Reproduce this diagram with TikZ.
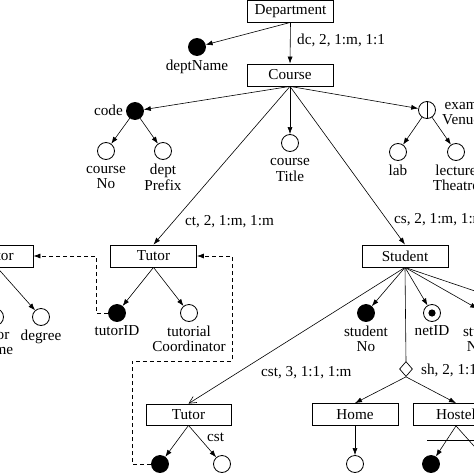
\documentclass[tikz,border=0pt]{standalone}
\usepackage{fontspec}
\setmainfont{Liberation Serif}
\usetikzlibrary{shapes.geometric,arrows.meta,positioning}
\newcommand{\myfs}{\fontsize{15.2}{14}\selectfont}
\begin{document}
\begin{tikzpicture}[x=1pt,y=-1pt,
  ent/.style={draw, line width=0.8pt, rectangle, minimum width=86pt, minimum height=22pt, inner sep=0pt, font=\myfs},
  att/.style={draw, circle, line width=0.8pt, minimum size=17pt, inner sep=0pt},
  key/.style={att, fill=black},
  conn/.style={line width=0.6pt, -{Latex[length=7pt,width=5pt]}},
  openarrow/.style={line width=0.6pt, -{Straight Barb[length=7pt,width=7pt]}},
  plain/.style={line width=0.6pt},
  refl/.style={line width=0.7pt, dash pattern=on 4pt off 3pt, -{Latex[length=7pt,width=5pt]}},
  lbl/.style={align=center, inner sep=0pt, font=\myfs},
  elbl/.style={inner sep=0pt, font=\myfs, anchor=base west}]
\useasboundingbox (0,0) rectangle (474,474);
\clip (0,0) rectangle (474,474);

% entity boxes
\node[ent] (dept) at (290.5,11) {Department};
\node[ent] (course) at (290,75) {Course};
\node[ent, minimum width=72pt] (tutorA) at (-3,256) {Tutor};
\node[ent] (tutorB) at (153.5,256) {Tutor};
\node[ent] (student) at (405,256) {Student};
\node[ent, minimum width=85pt, minimum height=21pt] (tutorC) at (188.5,414.5) {Tutor};
\node[ent] (home) at (355,414.5) {Home};
\node[ent] (hostel) at (456,414.5) {Hostel};

% attributes
\node[key] (deptName) at (197,47) {};
\node[lbl, below=3.5pt of deptName] (ldeptName) {\strut deptName};
\node[key] (code) at (135,111) {};
\node[lbl, anchor=base east] (lcode) at (123,115) {code};
\node[att] (courseNo) at (106,151) {};
\node[lbl, below=3.5pt of courseNo] (lcourseNo) {\strut course\\No};
\node[att] (deptPrefix) at (163,151) {};
\node[lbl, below=3.5pt of deptPrefix] (ldeptPrefix) {\strut dept\\Prefix};
\node[att] (courseTitle) at (290,143) {};
\node[lbl, below=3.5pt of courseTitle] (lcourseTitle) {\strut course\\Title};
\node[att] (examVenue) at (427,110) {};
\draw[line width=0.8pt] (examVenue.north) -- (examVenue.south);
\node[lbl, anchor=north west] (lexamVenue) at (442,99) {\strut exam\\Venue};
\node[att] (lab) at (398,152) {};
\node[lbl, below=3.5pt of lab] (llab) {\strut lab};
\node[att] (lecture) at (456,152) {};
\node[lbl, below=3.5pt of lecture] (llecture) {\strut lecture\\Theatre};

\node[att] (tutorName) at (-5,317) {};
\node[lbl, below=3.5pt of tutorName] (ltutorName) {\strut tutor\\Name};
\node[att] (degree) at (41,317) {};
\node[lbl, below=3.5pt of degree] (ldegree) {\strut degree};
\node[key] (tutorID) at (117,313) {};
\node[lbl, below=3.5pt of tutorID] (ltutorID) {\strut tutorID};
\node[att] (tutorial) at (189,313) {};
\node[lbl, below=3.5pt of tutorial] (ltutorial) {\strut tutorial\\Coordinator};

\node[key] (studentNo) at (366,313) {};
\node[lbl, below=3.5pt of studentNo] (lstudentNo) {\strut student\\No};
\node[att] (netID) at (432,313) {};
\fill (netID.center) circle (3.6);
\node[lbl, below=3.5pt of netID] (lnetID) {\strut netID};
\node[att] (studentName) at (485,313) {};
\node[lbl, below=3.5pt of studentName] (lstudentName) {\strut student\\Name};
\coordinate (sFour) at (540,313);

\node[diamond, draw, line width=0.7pt, minimum width=13pt, minimum height=15pt, inner sep=0pt] (dia) at (406,369) {};
\node[att] (homeAddr) at (355,464) {};
\node[key] (hostelID) at (431,464) {};
\coordinate (hostelTwo) at (490,464);
\coordinate (barL) at (427,440);
\coordinate (barR) at (500,440);
\node[key] (tcID) at (160,464) {};
\node[att] (tcTwo) at (222,464) {};

% edge labels
\node[elbl] (ldc) at (297,44) {dc, 2, 1:m, 1:1};
\node[elbl] (lct) at (185,225) {ct, 2, 1:m, 1:m};
\node[elbl] (lcs) at (394,223) {cs, 2, 1:m, 1:m};
\node[elbl] (lcst) at (261,376) {cst, 3, 1:1, 1:m};
\node[elbl] (lsh) at (421,374) {sh, 2, 1:1, 1:m};
\node[elbl] (lcst2) at (207,441) {cst};

% connectors
\draw[conn] (dept.south) -- (course.north);
\draw[conn] (dept.south) -- (deptName);
\draw[conn] (course.south) -- (code);
\draw[conn] (code) -- (courseNo);
\draw[conn] (code) -- (deptPrefix);
\draw[conn] (course.south) -- (courseTitle);
\draw[conn] (course.south) -- (examVenue);
\draw[conn] (examVenue) -- (lab);
\draw[conn] (examVenue) -- (lecture);
\draw[conn] (course.south) -- (tutorB.north);
\draw[conn] (course.south) -- (student.north);
\draw[conn] (tutorA.south) -- (tutorName);
\draw[conn] (tutorA.south) -- (degree);
\draw[conn] (tutorB.south) -- (tutorID);
\draw[conn] (tutorB.south) -- (tutorial);
\draw[conn] (student.south) -- (studentNo);
\draw[conn] (student.south) -- (netID);
\draw[conn] (student.south) -- (studentName);
\draw[conn] (student.south) -- (sFour);
\draw[plain] (student.south) -- (dia.north);
\draw[openarrow] (student.south) -- (tutorC.north);
\draw[conn] (dia.south) -- (home.north);
\draw[conn] (dia.south) -- (hostel.north);
\draw[conn] (home.south) -- (homeAddr);
\draw[conn] (hostel.south) -- (hostelID);
\draw[plain] (hostel.south) -- (hostelTwo);
\draw[plain] (barL) -- (barR);
\draw[conn] (tutorC.south) -- (tcID);
\draw[conn] (tutorC.south) -- (tcTwo);

% references
\coordinate (r1) at (96,313);
\draw[refl] (tutorID.west) -- (r1) |- (tutorA.east);
\coordinate (r2) at (132,464);
\coordinate (r3) at (132,361);
\coordinate (r4) at (232,361);
\draw[refl] (tcID.west) -- (r2) -- (r3) -- (r4) |- (tutorB.east);
\end{tikzpicture}
\end{document}
